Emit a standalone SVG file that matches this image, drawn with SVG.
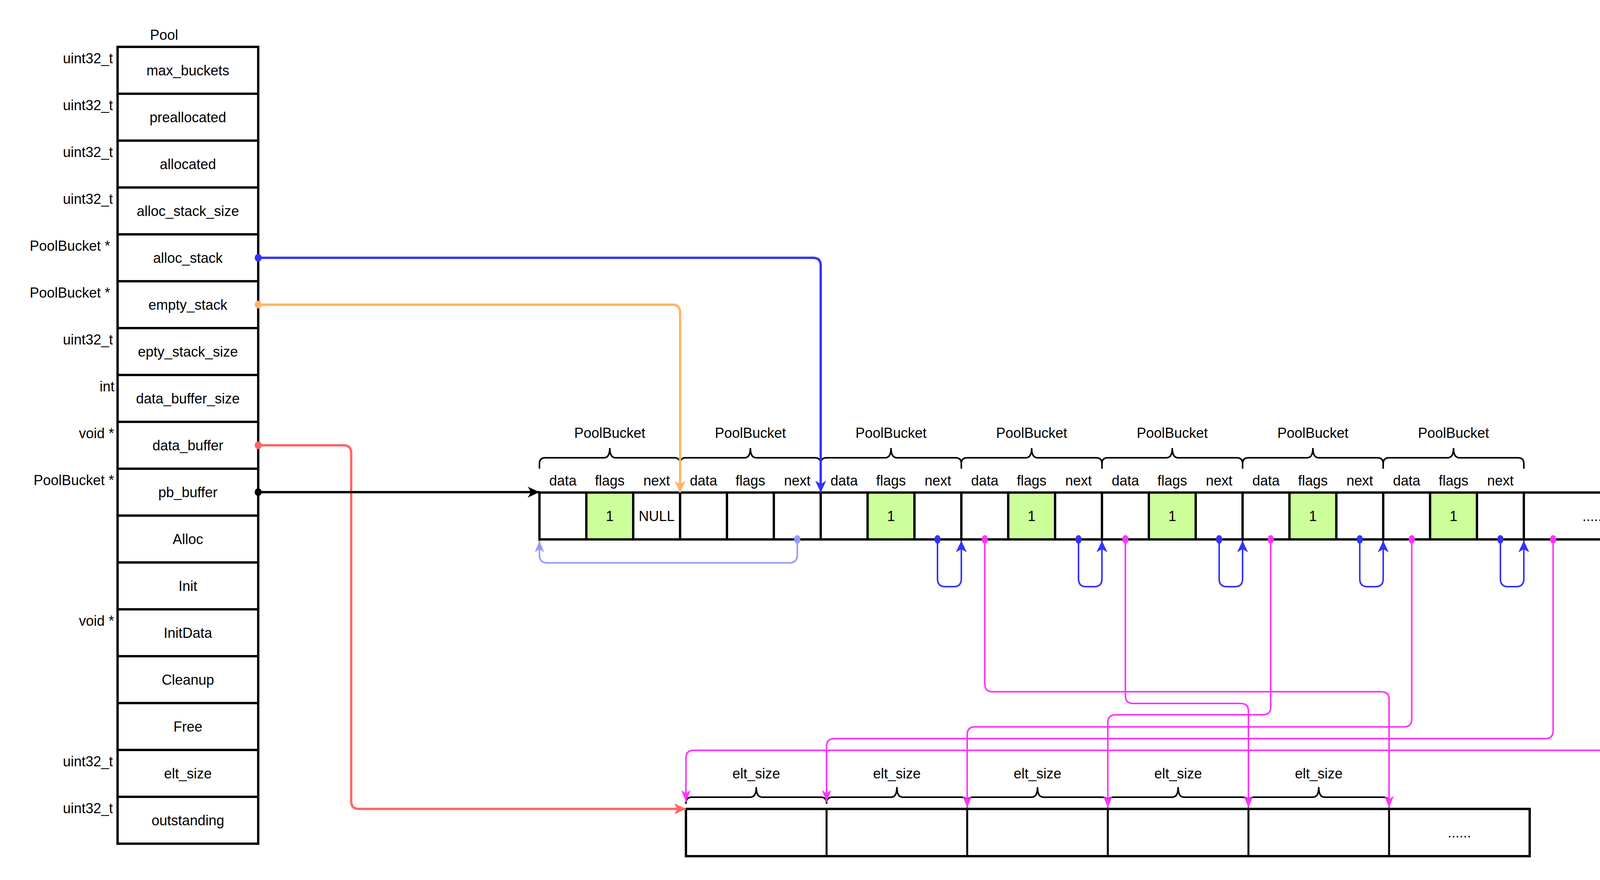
<svg xmlns="http://www.w3.org/2000/svg" width="4683" height="2253" viewBox="0 0 4683 2253">
<style>
text{font-family:"Liberation Sans",Arial,sans-serif;font-size:36px;fill:#000}
.c{text-anchor:middle;dominant-baseline:central}
.t{text-anchor:end}
.cell{fill:#fff;stroke:#000;stroke-width:6}
.g{fill:#CCFF99;stroke:#000;stroke-width:6}
.brace{fill:none;stroke:#000;stroke-width:4}
.ln{fill:none}
</style>
<defs>
<marker id="mk" markerUnits="userSpaceOnUse" markerWidth="40" markerHeight="30" refX="30" refY="14" orient="auto"><path d="M0,0 L30,14 L0,28 L8,14 Z" fill="#000"/></marker>
<marker id="mb" markerUnits="userSpaceOnUse" markerWidth="40" markerHeight="30" refX="30" refY="14" orient="auto"><path d="M0,0 L30,14 L0,28 L8,14 Z" fill="#3333FF"/></marker>
<marker id="mo" markerUnits="userSpaceOnUse" markerWidth="40" markerHeight="30" refX="30" refY="14" orient="auto"><path d="M0,0 L30,14 L0,28 L8,14 Z" fill="#FFB366"/></marker>
<marker id="mr" markerUnits="userSpaceOnUse" markerWidth="40" markerHeight="30" refX="30" refY="14" orient="auto"><path d="M0,0 L30,14 L0,28 L8,14 Z" fill="#FF6666"/></marker>
<marker id="ml" markerUnits="userSpaceOnUse" markerWidth="40" markerHeight="30" refX="30" refY="12" orient="auto"><path d="M0,0 L30,12 L0,24 L8,12 Z" fill="#9999FF"/></marker>
<marker id="mm" markerUnits="userSpaceOnUse" markerWidth="40" markerHeight="30" refX="30" refY="12" orient="auto"><path d="M0,0 L30,12 L0,24 L8,12 Z" fill="#FF33FF"/></marker>
</defs>

<g id="pool">
<text class="c" x="420" y="89">Pool</text>
<g id="pool-rows">
<rect class="cell" x="301" y="120" width="360" height="120"/>
<rect class="cell" x="301" y="240" width="360" height="120"/>
<rect class="cell" x="301" y="360" width="360" height="120"/>
<rect class="cell" x="301" y="480" width="360" height="120"/>
<rect class="cell" x="301" y="600" width="360" height="120"/>
<rect class="cell" x="301" y="720" width="360" height="120"/>
<rect class="cell" x="301" y="840" width="360" height="120"/>
<rect class="cell" x="301" y="960" width="360" height="120"/>
<rect class="cell" x="301" y="1080" width="360" height="120"/>
<rect class="cell" x="301" y="1200" width="360" height="120"/>
<rect class="cell" x="301" y="1320" width="360" height="120"/>
<rect class="cell" x="301" y="1440" width="360" height="120"/>
<rect class="cell" x="301" y="1560" width="360" height="120"/>
<rect class="cell" x="301" y="1680" width="360" height="120"/>
<rect class="cell" x="301" y="1800" width="360" height="120"/>
<rect class="cell" x="301" y="1920" width="360" height="120"/>
<rect class="cell" x="301" y="2040" width="360" height="120"/>
</g>
<text class="c" x="481" y="180">max_buckets</text>
<text class="c" x="481" y="300">preallocated</text>
<text class="c" x="481" y="420">allocated</text>
<text class="c" x="481" y="540">alloc_stack_size</text>
<text class="c" x="481" y="660">alloc_stack</text>
<text class="c" x="481" y="780">empty_stack</text>
<text class="c" x="481" y="900">epty_stack_size</text>
<text class="c" x="481" y="1020">data_buffer_size</text>
<text class="c" x="481" y="1140">data_buffer</text>
<text class="c" x="481" y="1260">pb_buffer</text>
<text class="c" x="481" y="1380">Alloc</text>
<text class="c" x="481" y="1500">Init</text>
<text class="c" x="481" y="1620">InitData</text>
<text class="c" x="481" y="1740">Cleanup</text>
<text class="c" x="481" y="1860">Free</text>
<text class="c" x="481" y="1980">elt_size</text>
<text class="c" x="481" y="2100">outstanding</text>
<g id="types">
<text class="t" x="289" y="162">uint32_t</text>
<text class="t" x="289" y="282">uint32_t</text>
<text class="t" x="289" y="402">uint32_t</text>
<text class="t" x="289" y="522">uint32_t</text>
<text class="t" x="282" y="642">PoolBucket *</text>
<text class="t" x="282" y="762">PoolBucket *</text>
<text class="t" x="289" y="882">uint32_t</text>
<text class="t" x="293" y="1002">int</text>
<text class="t" x="292" y="1122">void *</text>
<text class="t" x="292" y="1242">PoolBucket *</text>
<text class="t" x="292" y="1602">void *</text>
<text class="t" x="289" y="1962">uint32_t</text>
<text class="t" x="289" y="2082">uint32_t</text>
</g>
</g>

<g id="buckets">
<g id="bucket-cells">
<rect class="cell" x="1381" y="1261" width="3240" height="120"/>
<path d="M1501,1261V1381M1621,1261V1381M1741,1261V1381M1861,1261V1381M1981,1261V1381M2101,1261V1381M2221,1261V1381M2341,1261V1381M2461,1261V1381M2581,1261V1381M2701,1261V1381M2821,1261V1381M2941,1261V1381M3061,1261V1381M3181,1261V1381M3301,1261V1381M3421,1261V1381M3541,1261V1381M3661,1261V1381M3781,1261V1381M3901,1261V1381M4261,1261V1381M4381,1261V1381M4501,1261V1381" stroke="#000" stroke-width="6"/>
<rect class="g" x="1501" y="1261" width="120" height="120"/>
<rect class="g" x="2221" y="1261" width="120" height="120"/>
<rect class="g" x="2581" y="1261" width="120" height="120"/>
<rect class="g" x="2941" y="1261" width="120" height="120"/>
<rect class="g" x="3301" y="1261" width="120" height="120"/>
<rect class="g" x="3661" y="1261" width="120" height="120"/>
<rect class="g" x="4381" y="1261" width="120" height="120"/>
<text class="c" x="1561" y="1321">1</text>
<text class="c" x="2281" y="1321">1</text>
<text class="c" x="2641" y="1321">1</text>
<text class="c" x="3001" y="1321">1</text>
<text class="c" x="3361" y="1321">1</text>
<text class="c" x="3721" y="1321">1</text>
<text class="c" x="4441" y="1321">1</text>
<text class="c" x="1681" y="1321">NULL</text>
<text class="c" x="4561" y="1321">NULL</text>
<text class="c" x="4081" y="1321">......</text>
</g>
<g id="bucket-braces">
<path class="brace" d="M1381,1200V1187Q1381,1172 1396,1172H1546Q1561,1172 1561,1147Q1561,1172 1576,1172H1726Q1741,1172 1741,1187V1200"/>
<path class="brace" d="M1741,1200V1187Q1741,1172 1756,1172H1906Q1921,1172 1921,1147Q1921,1172 1936,1172H2086Q2101,1172 2101,1187V1200"/>
<path class="brace" d="M2101,1200V1187Q2101,1172 2116,1172H2266Q2281,1172 2281,1147Q2281,1172 2296,1172H2446Q2461,1172 2461,1187V1200"/>
<path class="brace" d="M2461,1200V1187Q2461,1172 2476,1172H2626Q2641,1172 2641,1147Q2641,1172 2656,1172H2806Q2821,1172 2821,1187V1200"/>
<path class="brace" d="M2821,1200V1187Q2821,1172 2836,1172H2986Q3001,1172 3001,1147Q3001,1172 3016,1172H3166Q3181,1172 3181,1187V1200"/>
<path class="brace" d="M3181,1200V1187Q3181,1172 3196,1172H3346Q3361,1172 3361,1147Q3361,1172 3376,1172H3526Q3541,1172 3541,1187V1200"/>
<path class="brace" d="M3541,1200V1187Q3541,1172 3556,1172H3706Q3721,1172 3721,1147Q3721,1172 3736,1172H3886Q3901,1172 3901,1187V1200"/>
<path class="brace" d="M4261,1200V1187Q4261,1172 4276,1172H4426Q4441,1172 4441,1147Q4441,1172 4456,1172H4606Q4621,1172 4621,1187V1200"/>
</g>
<g id="bucket-labels">
<text class="c" x="1561" y="1108">PoolBucket</text>
<text class="c" x="1921" y="1108">PoolBucket</text>
<text class="c" x="2281" y="1108">PoolBucket</text>
<text class="c" x="2641" y="1108">PoolBucket</text>
<text class="c" x="3001" y="1108">PoolBucket</text>
<text class="c" x="3361" y="1108">PoolBucket</text>
<text class="c" x="3721" y="1108">PoolBucket</text>
<text class="c" x="4441" y="1108">PoolBucket</text>
<text class="c" x="1441" y="1230">data</text><text class="c" x="1561" y="1230">flags</text><text class="c" x="1681" y="1230">next</text>
<text class="c" x="1801" y="1230">data</text><text class="c" x="1921" y="1230">flags</text><text class="c" x="2041" y="1230">next</text>
<text class="c" x="2161" y="1230">data</text><text class="c" x="2281" y="1230">flags</text><text class="c" x="2401" y="1230">next</text>
<text class="c" x="2521" y="1230">data</text><text class="c" x="2641" y="1230">flags</text><text class="c" x="2761" y="1230">next</text>
<text class="c" x="2881" y="1230">data</text><text class="c" x="3001" y="1230">flags</text><text class="c" x="3121" y="1230">next</text>
<text class="c" x="3241" y="1230">data</text><text class="c" x="3361" y="1230">flags</text><text class="c" x="3481" y="1230">next</text>
<text class="c" x="3601" y="1230">data</text><text class="c" x="3721" y="1230">flags</text><text class="c" x="3841" y="1230">next</text>
<text class="c" x="4321" y="1230">data</text><text class="c" x="4441" y="1230">flags</text><text class="c" x="4561" y="1230">next</text>
</g>
</g>

<g id="elements">
<rect class="cell" x="1756" y="2071" width="2160" height="121"/>
<path d="M2116,2071V2192M2476,2071V2192M2836,2071V2192M3196,2071V2192M3556,2071V2192" stroke="#000" stroke-width="5"/>
<text class="c" x="3736" y="2131">......</text>
<path class="brace" d="M1756,2058V2056Q1756,2041 1771,2041H1921Q1936,2041 1936,2015Q1936,2041 1951,2041H2101Q2116,2041 2116,2056V2058"/>
<path class="brace" d="M2116,2058V2056Q2116,2041 2131,2041H2281Q2296,2041 2296,2015Q2296,2041 2311,2041H2461Q2476,2041 2476,2056V2058"/>
<path class="brace" d="M2476,2058V2056Q2476,2041 2491,2041H2641Q2656,2041 2656,2015Q2656,2041 2671,2041H2821Q2836,2041 2836,2056V2058"/>
<path class="brace" d="M2836,2058V2056Q2836,2041 2851,2041H3001Q3016,2041 3016,2015Q3016,2041 3031,2041H3181Q3196,2041 3196,2056V2058"/>
<path class="brace" d="M3196,2058V2056Q3196,2041 3211,2041H3361Q3376,2041 3376,2015Q3376,2041 3391,2041H3541Q3556,2041 3556,2056V2058"/>
<text class="c" x="1936" y="1980">elt_size</text>
<text class="c" x="2296" y="1980">elt_size</text>
<text class="c" x="2656" y="1980">elt_size</text>
<text class="c" x="3016" y="1980">elt_size</text>
<text class="c" x="3376" y="1980">elt_size</text>
</g>

<g id="connectors">
<path class="ln" d="M661,660H2081Q2101,660 2101,680V1261" stroke="#3333FF" stroke-width="6" marker-end="url(#mb)"/>
<ellipse cx="661" cy="660" rx="9" ry="10" fill="#3333FF"/>
<path class="ln" d="M661,780H1721Q1741,780 1741,800V1261" stroke="#FFB366" stroke-width="6" marker-end="url(#mo)"/>
<ellipse cx="661" cy="780" rx="9" ry="10" fill="#FFB366"/>
<path class="ln" d="M661,1140H879Q899,1140 899,1160V2051Q899,2071 919,2071H1756" stroke="#FF6666" stroke-width="6" marker-end="url(#mr)"/>
<ellipse cx="661" cy="1140" rx="9" ry="10" fill="#FF6666"/>
<path class="ln" d="M661,1260H1381" stroke="#000" stroke-width="6" marker-end="url(#mk)"/>
<ellipse cx="661" cy="1260" rx="9" ry="10" fill="#000"/>
<path class="ln" d="M2041,1381V1421Q2041,1441 2021,1441H1401Q1381,1441 1381,1421V1384" stroke="#9999FF" stroke-width="4" marker-end="url(#ml)"/>
<ellipse cx="2041" cy="1381" rx="8" ry="11" fill="#9999FF"/>
<g id="loops" stroke="#3333FF" stroke-width="4" fill="none" marker-end="url(#ml)">
<path d="M2400,1381V1482Q2400,1502 2420,1502H2441Q2461,1502 2461,1482V1384" marker-end="url(#mb)"/>
<path d="M2761,1381V1482Q2761,1502 2781,1502H2801Q2821,1502 2821,1482V1384" marker-end="url(#mb)"/>
<path d="M3121,1381V1482Q3121,1502 3141,1502H3161Q3181,1502 3181,1482V1384" marker-end="url(#mb)"/>
<path d="M3481,1381V1482Q3481,1502 3501,1502H3521Q3541,1502 3541,1482V1384" marker-end="url(#mb)"/>
<path d="M3841,1381V1482Q3841,1502 3861,1502H3881Q3901,1502 3901,1482V1384" marker-end="url(#mb)"/>
<path d="M4201,1381V1482Q4201,1502 4221,1502H4241Q4261,1502 4261,1482V1384" marker-end="url(#mb)"/>
</g>
<g fill="#3333FF">
<ellipse cx="2400" cy="1381" rx="8" ry="11"/><ellipse cx="2761" cy="1381" rx="8" ry="11"/><ellipse cx="3121" cy="1381" rx="8" ry="11"/><ellipse cx="3481" cy="1381" rx="8" ry="11"/><ellipse cx="3841" cy="1381" rx="8" ry="11"/><ellipse cx="4201" cy="1381" rx="8" ry="11"/>
</g>
<g id="data-links" stroke="#FF33FF" stroke-width="4" fill="none" marker-end="url(#mm)">
<path d="M2521,1381V1751Q2521,1771 2541,1771H3536Q3556,1771 3556,1791V2068"/>
<path d="M2881,1381V1781Q2881,1801 2901,1801H3176Q3196,1801 3196,1821V2068"/>
<path d="M3253,1381V1810Q3253,1830 3233,1830H2856Q2836,1830 2836,1850V2068"/>
<path d="M3614,1381V1841Q3614,1861 3594,1861H2496Q2476,1861 2476,1881V2068"/>
<path d="M3976,1381V1871Q3976,1891 3956,1891H2136Q2116,1891 2116,1911V2053"/>
<path d="M4321,1381V1901Q4321,1921 4301,1921H1776Q1756,1921 1756,1941V2053"/>
</g>
<g fill="#FF33FF">
<ellipse cx="2521" cy="1381" rx="8" ry="11"/><ellipse cx="2881" cy="1381" rx="8" ry="11"/><ellipse cx="3253" cy="1381" rx="8" ry="11"/><ellipse cx="3614" cy="1381" rx="8" ry="11"/><ellipse cx="3976" cy="1381" rx="8" ry="11"/><ellipse cx="4321" cy="1381" rx="8" ry="11"/>
</g>
</g>
</svg>
